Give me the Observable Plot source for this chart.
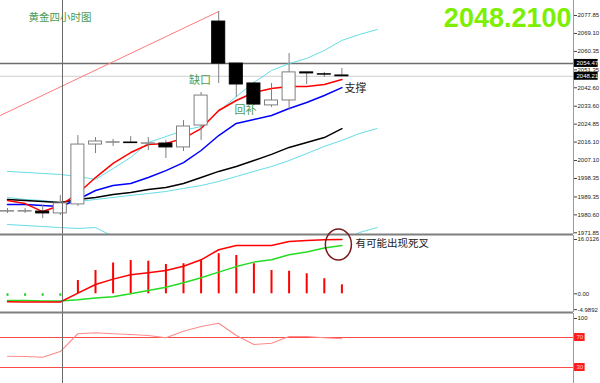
<!DOCTYPE html>
<html><head><meta charset="utf-8">
<script src="https://cdn.jsdelivr.net/npm/d3@7"></script>
<script src="https://cdn.jsdelivr.net/npm/@observablehq/plot@0.6"></script>
<style>
body{margin:0;background:#fff}
#chart{width:600px;height:383px;overflow:hidden;position:relative}
#chart svg{display:block}
</style>
</head><body><div id="chart"></div>
<script>
// ---- candles (4H gold) ----
const idx   = [0,1,2,3,4,5,6,7,8,9,10,11,12,13,14,15,16,17,18,19];
const open  = [1982.2,1982.2,1982.2,1981.3,1985.7,2014.9,2015.8,2015.9,2015.3,2015.4,2013.5,2024.2,2074.9,2054.4,2044.7,2034.0,2036.4,2050.1,2049.2,2048.6];
const high  = [1983.7,1983.7,1985.2,1990.0,2019.3,2018.3,2017.4,2018.8,2018.3,2016.9,2026.6,2040.3,2079.8,2054.4,2045.2,2044.7,2059.3,2050.1,2050.1,2052.0];
const low   = [1981.3,1981.3,1978.8,1980.3,1984.7,2010.5,2014.0,2015.7,2012.0,2008.1,2011.5,2016.9,2044.7,2037.9,2033.8,2033.0,2031.5,2044.2,2047.6,2048.2];
const close = [1982.4,1982.4,1981.3,1986.2,2014.9,2016.4,2016.0,2015.6,2015.5,2013.5,2023.7,2038.8,2054.4,2044.2,2034.4,2036.4,2050.1,2049.6,2049.0,2048.2];
// moving averages
const maRed   = [1987.6,1986.1,1982.2,1985.2,1991.0,1998.8,2005.7,2011.0,2014.9,2015.4,2017.9,2022.7,2031.5,2036.4,2040.3,2042.2,2043.2,2043.2,2044.2,2046.6];
const maBlue  = [1985.7,1985.7,1985.2,1984.7,1988.1,1992.5,1994.9,1995.9,1998.8,2002.2,2006.1,2012.0,2019.3,2025.2,2027.1,2029.1,2032.5,2035.4,2038.8,2042.7];
const maBlack = [1988.1,1987.6,1987.1,1986.6,1988.1,1989.1,1990.5,1991.5,1993.0,1994.0,1995.9,1998.8,2001.8,2004.2,2007.1,2010.1,2013.5,2015.9,2018.3,2022.7];
// bollinger bands (shifted forward)
const bandIdx  = [0,1,2,3,4,5,6,7,8,9,10,11,12,13,14,15,16,17,18,19,20,21];
const bbUpper  = [2001.8,2001.3,2000.8,2000.3,1999.3,1997.9,2003.2,2008.6,2015.9,2018.8,2021.8,2023.7,2031.0,2038.3,2045.2,2051.0,2054.4,2056.9,2060.8,2065.7,2068.6,2071.0];
const bbMiddle = [1989.1,1988.1,1987.6,1986.6,1987.1,1988.1,1989.1,1990.1,1991.0,1992.0,1993.5,1994.9,1996.9,1999.3,2001.8,2004.2,2007.1,2010.5,2014.0,2016.9,2020.3,2022.7];
const bbLower  = [1975.9,1975.4,1974.9,1974.4,1974.0,1974.4,1970.1,1968.1,1965.2,1964.2,1964.2,1965.2,1962.7,1961.3,1960.3,1959.3,1960.3,1963.7,1966.6,1968.1,1972.0,1974.4];
// trend line
const trendIdx = [-0.4, 12];
const trendVal = [2029.1, 2079.8];
// price axis
const priceTicks = [2077.85,2069.10,2060.35,2051.35,2042.60,2033.60,2024.85,2016.10,2007.10,1998.35,1989.35,1980.60,1971.85];
const markedPrices = [2054.47, 2048.21];
// MACD panel
const macdHist  = [-0.7,-0.7,-0.7,-0.7,3.7,6.5,8.6,9.3,9.1,8.2,8.4,9.3,11.2,10.7,8.4,6.5,6.3,5.6,4.2,2.5];
const macdMain  = [-2.2,-2.3,-2.3,-2.3,0.2,2.6,4.1,5.3,5.9,6.5,7.7,9.5,12.3,13.5,13.5,13.5,14.6,14.9,15.1,15.2];
const macdSig   = [-1.9,-1.9,-2.0,-2.0,-1.7,-1.2,-0.8,0.0,0.9,1.85,3.1,4.5,6.05,7.6,8.85,9.5,10.9,11.65,12.8,13.5];
const macdTicks = [16.0126, 0, -4.9892];
// RSI panel
const rsi = [45,44.7,43.7,51.3,75,76.3,75,74,72.7,69.6,78.4,84.7,89,72.7,60.7,62.4,71.3,71.3,69.6,68.3];
const rsiLevels = [70, 30];
// annotations
const notes = [
  {t:"缺口", i:10.94, v:2046.1, c:"#4e9a4e"},
  {t:"回补", i:13.52, v:2031.5, c:"#4e9a4e"},
  {t:"支撑", i:19.77, v:2042.2, c:"#222"}
];
const crossNote = {t:"有可能出现死叉", i:19.77, v:14.05};
const crossCircle = {i:18.8, v:13.77};
const crosshairIdx = 3.125;

// ---- layout ----
const xMin = -7/17.6, xMax = 566/17.6;
const FONT = "'Liberation Sans', Arial, 'Noto Sans CJK SC', sans-serif";
const common = {width:600, marginLeft:0, marginRight:27, marginTop:0,
  x:{domain:[xMin,xMax], axis:null}, style:{fontFamily:FONT, background:"transparent", overflow:"visible"}};
const AXIS = "#9a9a9a", DIV = "#7f7f7f", CROSS = "#6a6a6a";

const candles = idx.map((i,k)=>({i, o:open[k], h:high[k], l:low[k], c:close[k]}));
const ma = idx.map((i,k)=>({i, r:maRed[k], b:maBlue[k], k:maBlack[k]}));
const bb = bandIdx.map((i,k)=>({i, u:bbUpper[k], m:bbMiddle[k], l:bbLower[k]}));
const trend = trendIdx.map((i,k)=>({i, v:trendVal[k]}));

const yMainDomain = [1971.02, 2085.17];
const main = Plot.plot({...common, height:235, marginBottom:1,
  y:{domain:yMainDomain},
  marks:[
    Plot.ruleY([markedPrices[1]], {stroke:"#cdcdcd", strokeWidth:1}),
    Plot.ruleY([markedPrices[0]], {stroke:"#6e6e6e", strokeWidth:1.4}),
    Plot.line(trend, {x:"i", y:"v", stroke:"#ff7a7a", strokeWidth:1}),
    Plot.line(bb, {x:"i", y:"u", stroke:"#66dde6", strokeWidth:1, clip:true}),
    Plot.line(bb, {x:"i", y:"m", stroke:"#66dde6", strokeWidth:1, clip:true}),
    Plot.line(bb, {x:"i", y:"l", stroke:"#66dde6", strokeWidth:1, clip:true}),
    Plot.line(ma, {x:"i", y:"k", stroke:"#000", strokeWidth:1.5}),
    Plot.line(ma, {x:"i", y:"b", stroke:"#0000ff", strokeWidth:1.5}),
    Plot.line(ma, {x:"i", y:"r", stroke:"#ff0000", strokeWidth:1.5}),
    Plot.ruleX(candles, {x:"i", y1:"l", y2:"h", stroke:"#7f7f7f", strokeWidth:1}),
    Plot.rect(candles, {x1:d=>d.i-0.37, x2:d=>d.i+0.37, y1:"o", y2:"c",
      fill:d=>d.c>=d.o?"#ffffff":"#000000", stroke:d=>d.c>=d.o?"#7f7f7f":"#000000", strokeWidth:1}),
    Plot.text(notes, {x:"i", y:"v", text:"t", fill:d=>d.c, fontSize:11}),
    Plot.ruleX([crosshairIdx], {stroke:CROSS, strokeWidth:1}),
    Plot.ruleX([xMax], {stroke:AXIS, strokeWidth:1}),
    Plot.axisY({anchor:"right", ticks:priceTicks, tickFormat:d=>d.toFixed(2), tickSize:3, tickPadding:1, fontSize:6, label:null, fill:"#222", stroke:"#444"}),
    Plot.rect(markedPrices, {x1:()=>xMax+0.05, x2:()=>xMax+1.4, y1:d=>d-1.95, y2:d=>d+1.95, fill:"#000"}),
    Plot.text(markedPrices, {x:()=>xMax, y:d=>d, text:d=>d.toFixed(2), dx:3, textAnchor:"start", fill:"#fff", fontSize:6}),
    Plot.ruleY([yMainDomain[0]], {stroke:DIV, strokeWidth:2}),
    Plot.text(["黄金四小时图"], {frameAnchor:"top-left", dx:28, dy:17, textAnchor:"start", lineAnchor:"middle", fill:"#4e9a4e", fontSize:10.5}),
    Plot.text(["2048.2100"], {frameAnchor:"top-right", dx:-2, dy:18, textAnchor:"end", lineAnchor:"middle", fill:"#7cf000", fontSize:27, fontWeight:"bold"})
  ]});

const ellipse = {draw(ctx){const rx=13, ry=15.5, k=0.5523;
  ctx.moveTo(rx,0);
  ctx.bezierCurveTo(rx,ry*k,rx*k,ry,0,ry);
  ctx.bezierCurveTo(-rx*k,ry,-rx,ry*k,-rx,0);
  ctx.bezierCurveTo(-rx,-ry*k,-rx*k,-ry,0,-ry);
  ctx.bezierCurveTo(rx*k,-ry,rx,-ry*k,rx,0);
  ctx.closePath();}};

const macdRows = idx.map((i,k)=>({i, h:macdHist[k], m:macdMain[k], s:macdSig[k]}));
const yMacdDomain = [-5.23, 16.29];
const macd = Plot.plot({...common, height:78, marginBottom:1,
  y:{domain:yMacdDomain},
  marks:[
    Plot.ruleX(macdRows, {x:"i", y1:()=>0, y2:"h", stroke:d=>d.h<0?"#22cc22":"#ff0000", strokeWidth:2}),
    Plot.line(macdRows, {x:"i", y:"s", stroke:"#22dd22", strokeWidth:1.5}),
    Plot.line(macdRows, {x:"i", y:"m", stroke:"#ff0000", strokeWidth:1.5}),
    Plot.ruleX([crosshairIdx], {stroke:CROSS, strokeWidth:1}),
    Plot.ruleX([xMax], {stroke:AXIS, strokeWidth:1}),
    Plot.axisY({anchor:"right", ticks:[macdTicks[0]], tickFormat:d=>d.toFixed(4), tickSize:3, tickPadding:1, fontSize:6, label:null, fill:"#222", stroke:"#444", dy:3}),
    Plot.axisY({anchor:"right", ticks:[macdTicks[1]], tickFormat:d=>d.toFixed(2), tickSize:3, tickPadding:1, fontSize:6, label:null, fill:"#222", stroke:"#444"}),
    Plot.axisY({anchor:"right", ticks:[macdTicks[2]], tickFormat:d=>d.toFixed(4), tickSize:3, tickPadding:1, fontSize:6, label:null, fill:"#222", stroke:"#444", dy:-2}),
    Plot.ruleY([yMacdDomain[0]], {stroke:DIV, strokeWidth:2}),
    Plot.dot([crossCircle], {x:"i", y:"v", symbol:ellipse, r:14, stroke:"#7a1a1a", strokeWidth:1.5, fill:"none"}),
    Plot.text([crossNote], {x:"i", y:"v", text:"t", textAnchor:"start", fill:"#222", fontSize:10.5})
  ]});

const rsiRows = idx.map((i,k)=>({i, v:rsi[k]}));
const rsiPlot = Plot.plot({...common, height:70, marginBottom:0,
  y:{domain:[8.67, 102]},
  marks:[
    Plot.ruleY(rsiLevels, {stroke:"#ff4a4a", strokeWidth:1.2}),
    Plot.line(rsiRows, {x:"i", y:"v", stroke:"#ff8a8a", strokeWidth:1.1}),
    Plot.ruleX([crosshairIdx], {stroke:CROSS, strokeWidth:1}),
    Plot.ruleX([xMax], {stroke:AXIS, strokeWidth:1}),
    Plot.axisY({anchor:"right", ticks:[100], tickFormat:d=>String(d), tickSize:3, tickPadding:1, fontSize:6, label:null, fill:"#222", stroke:"#444", dy:3.5}),
    Plot.rect(rsiLevels, {x1:()=>xMax+0.06, x2:()=>xMax+0.66, y1:d=>d-5.3, y2:d=>d+5.3, fill:"#ff1a1a"}),
    Plot.text(rsiLevels, {x:()=>xMax, y:d=>d, text:d=>String(d), dx:3, textAnchor:"start", fill:"#ffd0d0", fontSize:6})
  ]});

const el = document.getElementById("chart");
el.append(main, macd, rsiPlot);
</script>
</body></html>
